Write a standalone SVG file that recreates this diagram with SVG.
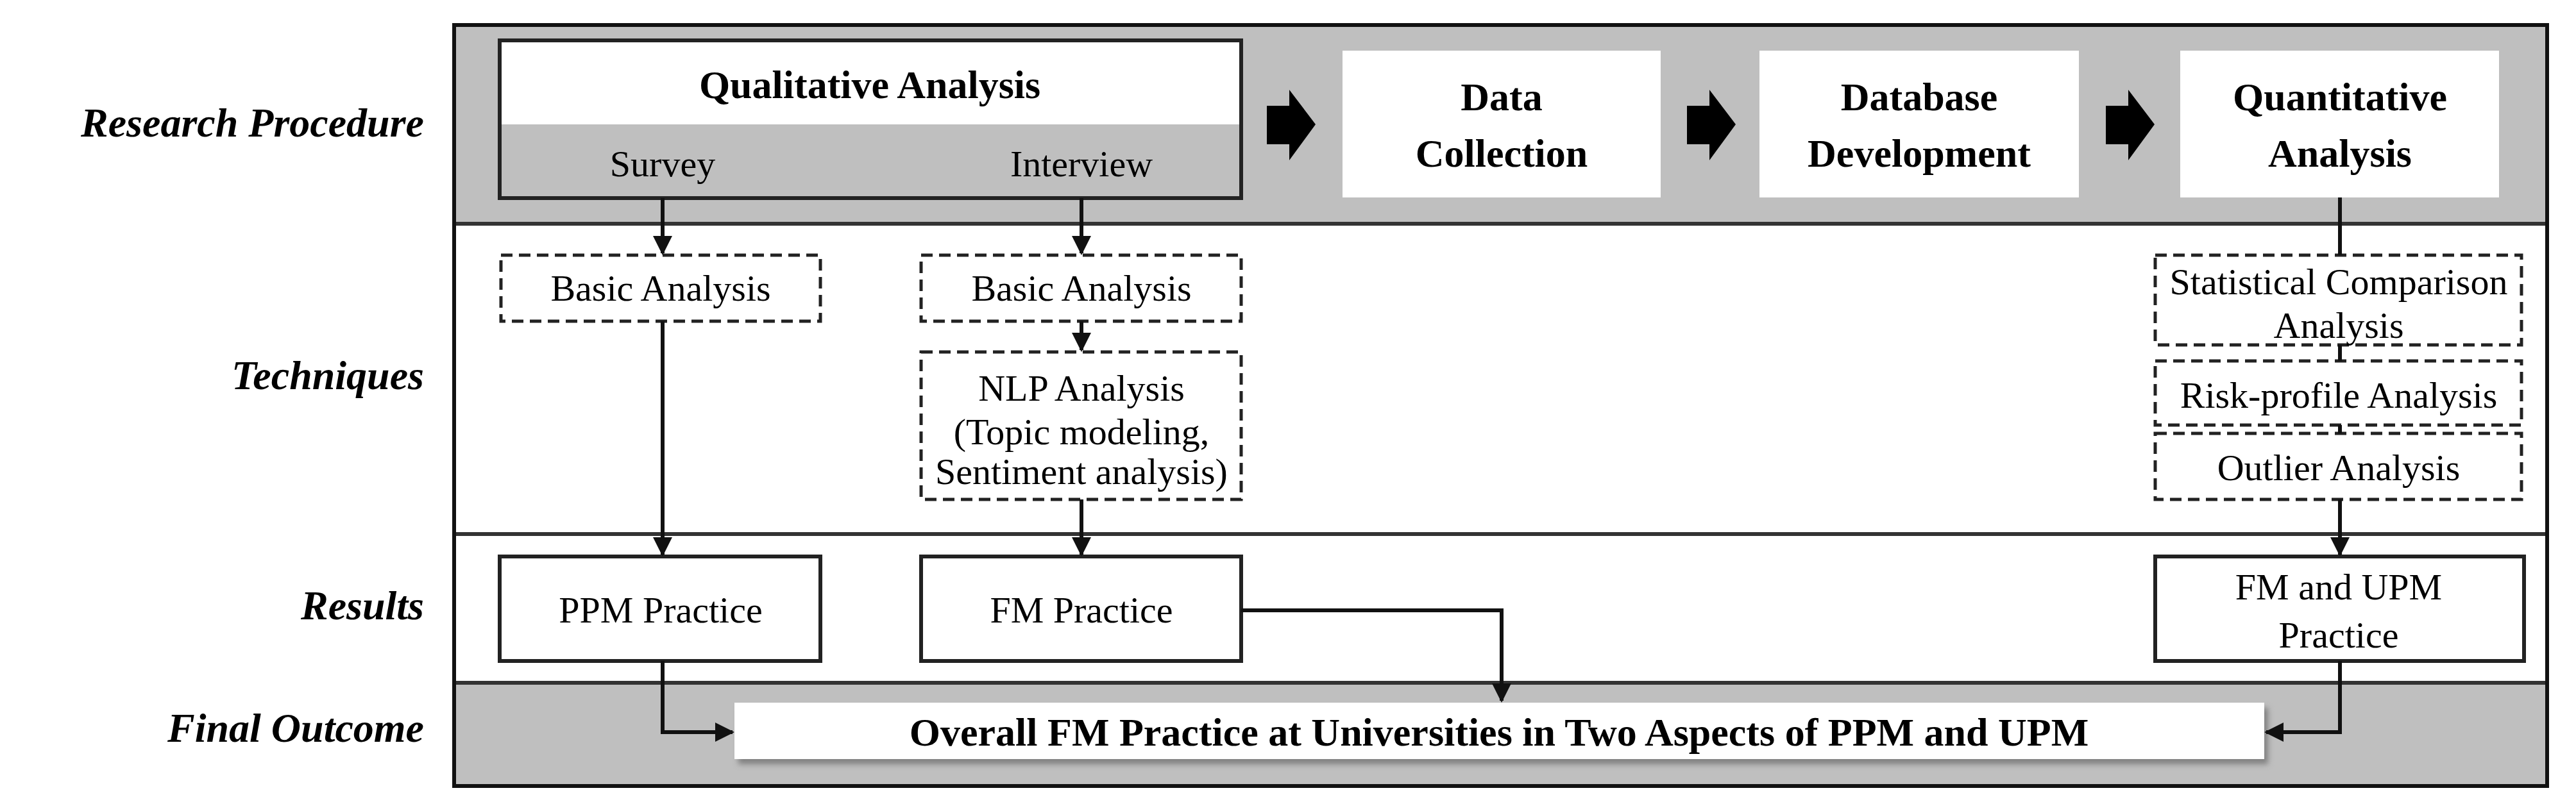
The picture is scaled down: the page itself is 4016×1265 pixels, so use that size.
<svg xmlns="http://www.w3.org/2000/svg" width="4016" height="1265" viewBox="0 0 4016 1265">
<defs>
<style>
.t{font-family:"Liberation Serif",serif;font-size:58px;text-anchor:middle;fill:#000}
.b{font-family:"Liberation Serif",serif;font-weight:bold;font-size:62px;text-anchor:middle;fill:#000}
.lab{font-family:"Liberation Serif",serif;font-weight:bold;font-style:italic;font-size:64px;text-anchor:end;fill:#000}
.box{fill:#fff;stroke:#222;stroke-width:6}
.dash{fill:#fff;stroke:#222;stroke-width:5;stroke-dasharray:18 10}
.ln{fill:none;stroke:#111;stroke-width:6}
</style>
<marker id="ah" viewBox="0 0 10 10" refX="9" refY="5" markerWidth="5" markerHeight="5" orient="auto" markerUnits="strokeWidth"><path d="M0,0 L10,5 L0,10 z" fill="#111"/></marker>
<filter id="sh" x="-5%" y="-20%" width="110%" height="150%"><feDropShadow dx="6" dy="8" stdDeviation="4" flood-color="#666" flood-opacity="0.7"/></filter>
</defs>
<g id="frame">
<rect x="708" y="349" width="3263" height="716" fill="#fff"/>
<rect x="708" y="39" width="3263" height="310" fill="#bfbfbf"/>
<rect x="708" y="1065" width="3263" height="161" fill="#bfbfbf"/>
<line x1="708" y1="349" x2="3971" y2="349" stroke="#333" stroke-width="6"/>
<line x1="708" y1="833" x2="3971" y2="833" stroke="#333" stroke-width="6"/>
<line x1="708" y1="1065" x2="3971" y2="1065" stroke="#333" stroke-width="6"/>
<rect x="708" y="39" width="3263" height="1187" fill="none" stroke="#111" stroke-width="6"/>
</g>
<g id="labels">
<text class="lab" x="661" y="213">Research Procedure</text>
<text class="lab" x="661" y="607">Techniques</text>
<text class="lab" x="661" y="966">Results</text>
<text class="lab" x="661" y="1157">Final Outcome</text>
</g>
<g id="qualitative">
<rect x="779" y="63" width="1156" height="246" fill="#bfbfbf" stroke="#222" stroke-width="6"/>
<rect x="782" y="66" width="1150" height="128" fill="#fff"/>
<text class="b" x="1356" y="153">Qualitative Analysis</text>
<text class="t" x="1033" y="275">Survey</text>
<text class="t" x="1686" y="275">Interview</text>
</g>
<g id="arrows-block" fill="#000">
<path d="M1975,165 H2010 V140 L2051,194 L2010,250 V225 H1975 Z"/>
<path d="M2630,165 H2665 V140 L2706,194 L2665,250 V225 H2630 Z"/>
<path d="M3283,165 H3318 V140 L3359,194 L3318,250 V225 H3283 Z"/>
</g>
<g id="data-collection"><rect x="2093" y="79" width="496" height="229" fill="#fff"/>
<text class="b" x="2341" y="172">Data</text><text class="b" x="2341" y="260">Collection</text></g>
<g id="database"><rect x="2743" y="79" width="498" height="229" fill="#fff"/>
<text class="b" x="2992" y="172">Database</text><text class="b" x="2992" y="260">Development</text></g>
<g id="quantitative"><rect x="3399" y="79" width="497" height="229" fill="#fff"/>
<text class="b" x="3648" y="172">Quantitative</text><text class="b" x="3648" y="260">Analysis</text></g>
<g id="basic1"><rect class="dash" x="781" y="398" width="498" height="103"/><text class="t" x="1030" y="469">Basic Analysis</text></g>
<g id="basic2"><rect class="dash" x="1436" y="398" width="499" height="103"/><text class="t" x="1686" y="469">Basic Analysis</text></g>
<g id="nlp"><rect class="dash" x="1436" y="549" width="499" height="230"/>
<text class="t" x="1686" y="625">NLP Analysis</text>
<text class="t" x="1686" y="693">(Topic modeling,</text>
<text class="t" x="1686" y="755">Sentiment analysis)</text></g>
<g id="stat"><rect class="dash" x="3360" y="398" width="571" height="140"/>
<text class="t" x="3646" y="459">Statistical Comparison</text><text class="t" x="3646" y="527">Analysis</text></g>
<g id="risk"><rect class="dash" x="3360" y="563" width="571" height="100"/><text class="t" x="3646" y="636">Risk-profile Analysis</text></g>
<g id="outlier"><rect class="dash" x="3360" y="676" width="571" height="103"/><text class="t" x="3646" y="749">Outlier Analysis</text></g>
<g id="ppm"><rect class="box" x="779" y="868" width="500" height="163"/><text class="t" x="1030" y="971">PPM Practice</text></g>
<g id="fm"><rect class="box" x="1436" y="868" width="499" height="163"/><text class="t" x="1686" y="971">FM Practice</text></g>
<g id="fmupm"><rect class="box" x="3360" y="868" width="575" height="163"/>
<text class="t" x="3646" y="935">FM and UPM</text><text class="t" x="3646" y="1010">Practice</text></g>
<g id="outcome"><rect x="1145" y="1096" width="2385" height="88" fill="#fff" filter="url(#sh)"/>
<text class="b" x="2337" y="1163">Overall FM Practice at Universities in Two Aspects of PPM and UPM</text></g>
<g id="connectors">
<path class="ln" d="M1033,309 V395" marker-end="url(#ah)"/>
<path class="ln" d="M1686,309 V395" marker-end="url(#ah)"/>
<path class="ln" d="M1686,501 V546" marker-end="url(#ah)"/>
<path class="ln" d="M1033,501 V865" marker-end="url(#ah)"/>
<path class="ln" d="M1686,779 V865" marker-end="url(#ah)"/>
<path class="ln" d="M3648,308 V398"/>
<path class="ln" d="M3648,538 V563"/>
<path class="ln" d="M3648,663 V676"/>
<path class="ln" d="M3648,779 V865" marker-end="url(#ah)"/>
<path class="ln" d="M1033,1031 V1142 H1142" marker-end="url(#ah)"/>
<path class="ln" d="M1935,952 H2341 V1093" marker-end="url(#ah)"/>
<path class="ln" d="M3648,1031 V1142 H3533" marker-end="url(#ah)"/>
</g>
</svg>
